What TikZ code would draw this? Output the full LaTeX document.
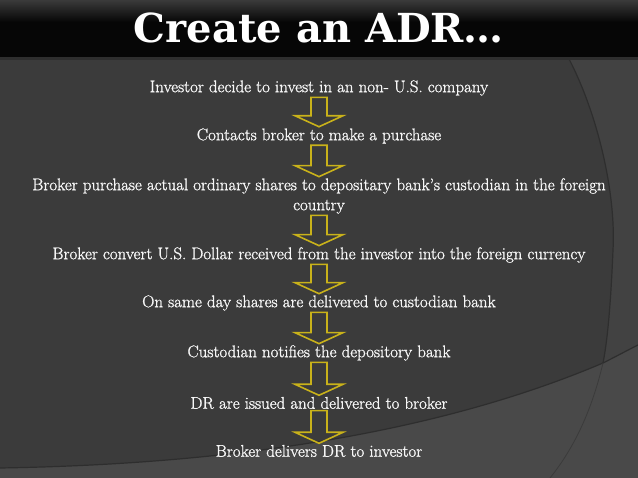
\documentclass[tikz,border=0pt]{standalone}
\usepackage{fontspec}
\newfontfamily\titlefont{DejaVu Serif}
\newfontfamily\stepfont[Ligatures=TeX, FakeBold=1.2]{Latin Modern Roman}
\usetikzlibrary{calc}
\definecolor{bandtop}{HTML}{3A3A3A}
\definecolor{bandblack}{HTML}{060606}
\definecolor{bgdark}{HTML}{3B3B3B}
\definecolor{bgmid}{HTML}{424242}
\definecolor{bglight}{HTML}{494949}
\definecolor{edgeline}{HTML}{2E2E2E}
\definecolor{arrowgold}{HTML}{C9B21A}
\definecolor{steptext}{HTML}{F7F7F7}
\tikzset{
  stepnode/.style={text=steptext, inner sep=1.5pt, align=center, font=\stepfont\fontsize{16.9}{20}\selectfont},
  downarrow/.style={draw=arrowgold, line width=1.6pt, line join=miter,
    to path={let \p1=(\tikztostart), \p2=(\tikztotarget) in
      (\x1-8pt,\y1) -- (\x1-8pt,\y2+11pt) -- (\x1-24pt,\y2+11pt) -- (\x1,\y2)
      -- (\x1+24pt,\y2+11pt) -- (\x1+8pt,\y2+11pt) -- (\x1+8pt,\y1) -- cycle}}
}
\begin{document}
\begin{tikzpicture}[x=1pt,y=1pt]
  \useasboundingbox (0,0) rectangle (638,478);
  % slide background
  \fill[bgdark] (0,0) rectangle (638,421);
  \fill[bgmid] (568,421) .. controls (600,360) and (616,280) .. (613,228)
    .. controls (611,180) and (608,140) .. (603,115)
    .. controls (615,121) and (628,128) .. (638,133) -- (638,421) -- cycle;
  \fill[bglight] (0,0) -- (0,10) .. controls (250,14) and (450,50) .. (603,115)
    .. controls (615,121) and (628,128) .. (638,133) -- (638,0) -- cycle;
  \draw[edgeline, line width=1.2pt] (568,421) .. controls (600,360) and (616,280) .. (613,228)
    .. controls (611,180) and (608,140) .. (603,115);
  \draw[edgeline, line width=1.2pt] (0,10) .. controls (250,14) and (450,50) .. (603,115)
    .. controls (615,121) and (628,128) .. (638,133);
  \draw[bgdark, line width=0.8pt] (603,115) .. controls (590,60) and (570,25) .. (550,0);
  % title band
  \shade[top color=bandtop, bottom color=bandblack] (0,478) rectangle (638,456);
  \fill[bandblack] (0,456) rectangle (638,421);
  \fill[edgeline] (0,421) rectangle (638,418);
  \node[text=white, font=\titlefont\bfseries\fontsize{40}{42}\selectfont] (title) at (319,450) {Create an ADR\dots};

  \node[stepnode] (s1) at (319,390) {Investor decide to invest in an non- U.S. company};
  \node[stepnode] (s2) at (319,342) {Contacts broker to make a purchase};
  \node[stepnode] (s3) at (319,282) {Broker purchase actual ordinary shares to depositary bank’s custodian in the foreign\\country};
  \node[stepnode] (s4) at (319,223) {Broker convert U.S. Dollar received from the investor into the foreign currency};
  \node[stepnode] (s5) at (319,175) {On same day shares are delivered to custodian bank};
  \node[stepnode] (s6) at (319,125) {Custodian notifies the depository bank};
  \node[stepnode] (s7) at (319,75) {DR are issued and delivered to broker};
  \node[stepnode] (s8) at (319,27) {Broker delivers DR to investor};

  \draw (s1.south) edge[downarrow] (s2.north);
  \draw (s2.south) edge[downarrow] (s3.north);
  \draw (s3.south) edge[downarrow] (s4.north);
  \draw (s4.south) edge[downarrow] (s5.north);
  \draw (s5.south) edge[downarrow] (s6.north);
  \draw (s6.south) edge[downarrow] (s7.north);
  \draw (s7.south) edge[downarrow] (s8.north);
\end{tikzpicture}
\end{document}
